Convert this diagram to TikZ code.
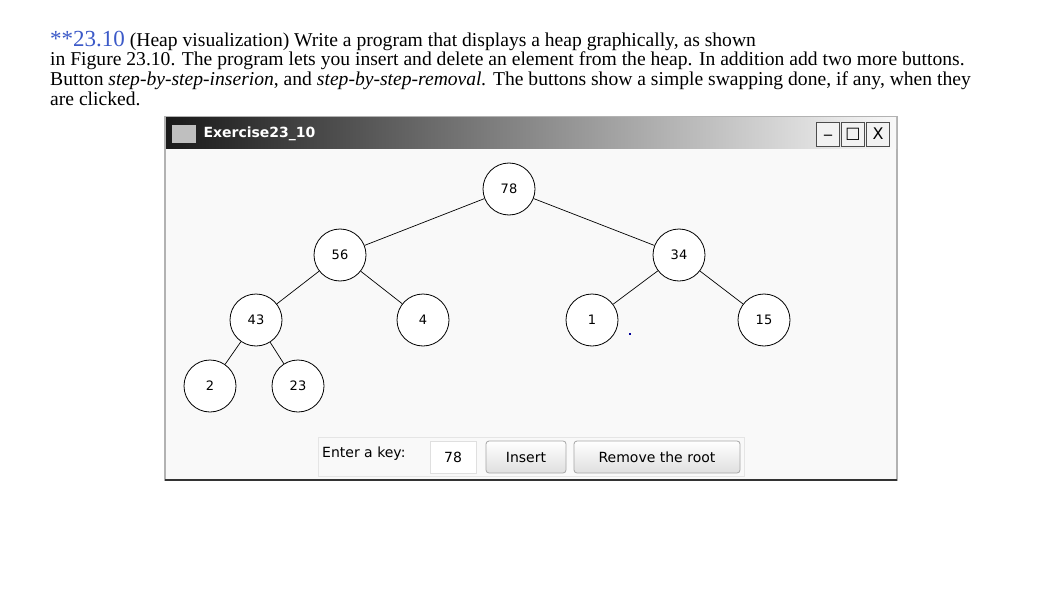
\documentclass[tikz,border=0pt]{standalone}
\usepackage{fontspec}
\setmainfont{Liberation Serif}
\newfontfamily\uifont{DejaVu Sans}
\begin{document}
\begin{tikzpicture}[x=1pt,y=-1pt,
  hn/.style={circle,draw=black,fill=white,line width=0.8pt,minimum size=52pt,inner sep=0pt,font=\uifont\fontsize{13}{13}\selectfont},
  btn/.style={draw=gray!70,rounded corners=3pt,top color=white,bottom color=gray!25,line width=0.8pt},
  txt/.style={anchor=base west,inner sep=0pt,font=\fontsize{19.6}{19}\selectfont},
  wb/.style={draw=black!70,fill=gray!10,minimum width=23pt,minimum height=24pt,inner sep=0pt,font=\uifont\fontsize{16}{16}\selectfont}]
\useasboundingbox (0,0) rectangle (1048,604);
\fill[white] (0,0) rectangle (1048,604);
% text
\node[txt] (l1) at (50,47) {\textcolor[RGB]{60,90,200}{\fontsize{23}{23}\selectfont **23.10} (Heap visualization) Write a program that displays a heap graphically, as shown};
\node[txt] (l2) at (50,66) {in Figure 23.10. The program lets you insert and delete an element from the heap. In addition add two more buttons.};
\node[txt] (l3) at (50,86) {Button \textit{step-by-step-inserion}, and \textit{step-by-step-removal.} The buttons show a simple swapping done, if any, when they};
\node[txt] (l4) at (50,106) {are clicked.};
% window
\fill[gray!5] (165,117) rectangle (897,480);
\draw[gray!60,line width=1.5pt] (165,117) rectangle (897,480);
\draw[black!80,line width=2pt] (165,480) -- (897,480);
\shade[left color=black!90,right color=gray!5] (166,118) rectangle (896,149);
\fill[gray!50] (172,125) rectangle (196,143);
\node[anchor=west,text=white,font=\uifont\bfseries\fontsize{14}{14}\selectfont] (title) at (200,134) {Exercise23\_10};
\node[wb] (bmin) at (828,134) {\_};
\node[wb] (bmax) at (853,134) {□};
\node[wb] (bclose) at (878,134) {X};
% heap
\node[hn] (n78) at (509,189) {78};
\node[hn] (n56) at (340,255) {56};
\node[hn] (n34) at (679,255) {34};
\node[hn] (n43) at (256,320) {43};
\node[hn] (n4) at (423,320) {4};
\node[hn] (n1) at (592,320) {1};
\node[hn] (n15) at (764,320) {15};
\node[hn] (n2) at (210,386) {2};
\node[hn] (n23) at (298,386) {23};
\foreach \a/\b in {n78/n56,n78/n34,n56/n43,n56/n4,n34/n1,n34/n15,n43/n2,n43/n23}
  \draw[line width=0.7pt] (\a) -- (\b);
\fill[blue!60!black] (629,333) rectangle (631,335);
% controls
\draw[gray!20] (318,437) rectangle (744,476);
\node[anchor=west,inner sep=0pt,font=\uifont\fontsize{14}{14}\selectfont] (lab) at (322,454) {Enter a key:};
\node[draw=gray!25,fill=white,minimum width=46pt,minimum height=32pt,inner sep=0pt,font=\uifont\fontsize{14}{14}\selectfont] (key) at (453,457) {78};
\node[btn,minimum width=80pt,minimum height=32pt,font=\uifont\fontsize{14}{14}\selectfont] (ins) at (526,457) {Insert};
\node[btn,minimum width=166pt,minimum height=32pt,font=\uifont\fontsize{14}{14}\selectfont] (rem) at (657,457) {Remove the root};
\end{tikzpicture}
\end{document}
